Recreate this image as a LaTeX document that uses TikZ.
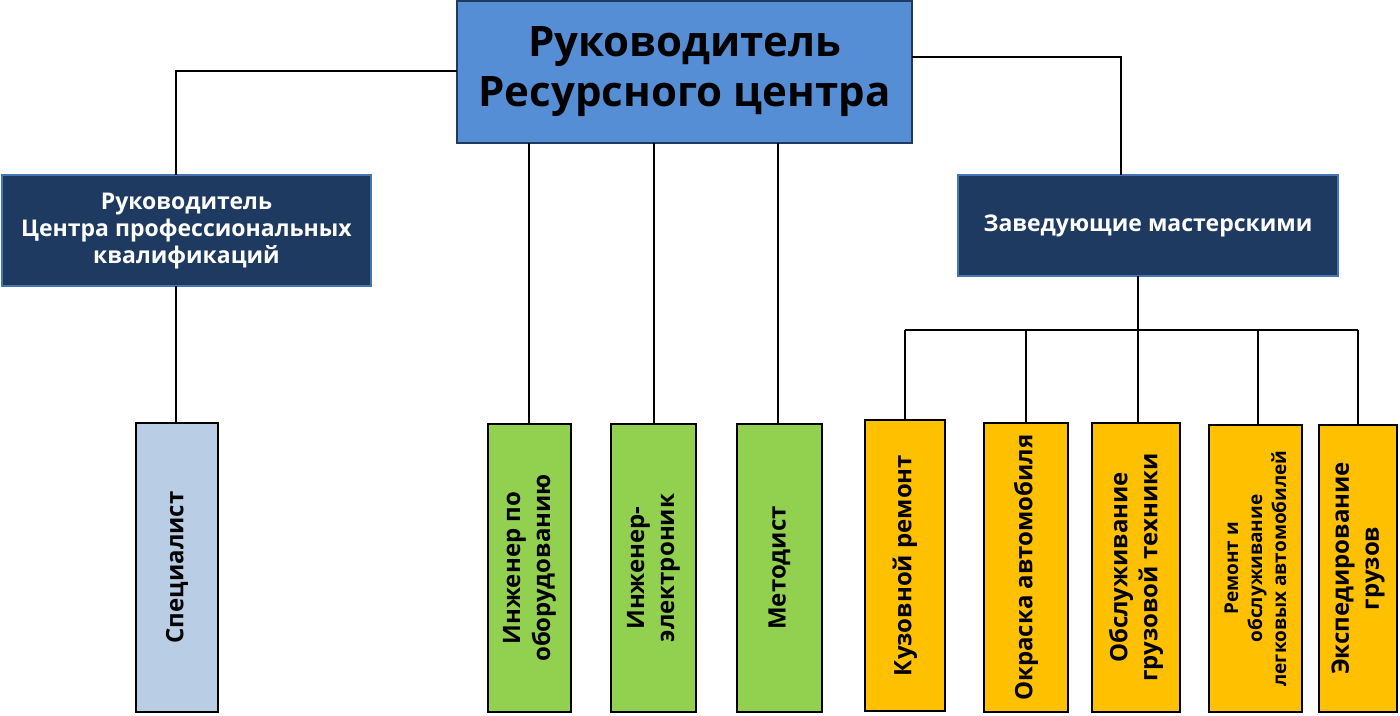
\documentclass[tikz,border=0pt]{standalone}
\usepackage{fontspec}
\setmainfont{Open Sans}
\definecolor{topblue}{HTML}{558ED5}
\definecolor{navy}{HTML}{1F3A60}
\definecolor{lblue}{HTML}{B9CDE5}
\definecolor{grn}{HTML}{92D050}
\definecolor{org}{HTML}{FFC000}
\begin{document}
\begin{tikzpicture}[x=1pt,y=-1pt,
 box/.style={draw=black,line width=2pt,inner sep=0pt},
 dbox/.style={fill=navy,draw=topblue!70!navy,line width=1.2pt,text=white,font=\bfseries\fontsize{23}{27}\selectfont,align=center},
 vtxt/.style={font=\bfseries\fontsize{24}{30}\selectfont,align=center,rotate=90},
 ln/.style={line width=1.5pt}]
\useasboundingbox (0,0) rectangle (1400,715);
\draw[fill=topblue,draw=navy,line width=1.2pt] (457,1) rectangle (912,143);
\node[font=\bfseries\fontsize{42}{50}\selectfont,align=center] (top) at (684.5,72) {Руководитель\\Ресурсного центра};
\draw[dbox] (2,175) rectangle (371,286);
\node[dbox,draw=none] (L) at (186.5,231) {Руководитель\\Центра профессиональных\\квалификаций};
\draw[dbox] (958,175) rectangle (1338,276);
\node[dbox,draw=none] (R) at (1148,226) {Заведующие мастерскими};
% connectors
\draw[ln] (457,71) -| (176,175);
\draw[ln] (912,57) -| (1121,175);
\foreach \x in {529,654,778}{\draw[ln] (\x,143) -- (\x,424);}
\draw[ln] (176,286) -- (176,423);
\draw[ln] (1138,276) -- (1138,330);
\draw[ln] (905,330) -- (1358,330);
\foreach \x/\y in {905/420,1026/423,1138/423,1258/425,1358/425}{\draw[ln] (\x,330) -- (\x,\y);}
% boxes
\draw[box,fill=lblue] (136,423) rectangle (218,712);
\node[vtxt] at (177,567.5) {Специалист};
\draw[box,fill=grn] (488,424) rectangle (571,712);
\node[vtxt] at (529.5,568) {Инженер по\\оборудованию};
\draw[box,fill=grn] (611,424) rectangle (696,712);
\node[vtxt] at (653.5,568) {Инженер-\\электроник};
\draw[box,fill=grn] (737,424) rectangle (822,712);
\node[vtxt] at (779.5,568) {Методист};
\draw[box,fill=org] (865,420) rectangle (945,711);
\node[vtxt] at (905,565.5) {Кузовной ремонт};
\draw[box,fill=org] (984,423) rectangle (1068,712);
\node[vtxt] at (1026,567.5) {Окраска автомобиля};
\draw[box,fill=org] (1092,423) rectangle (1180,712);
\node[vtxt] at (1136,567.5) {Обслуживание\\грузовой техники};
\draw[box,fill=org] (1209,425) rectangle (1302,712);
\node[vtxt,font=\bfseries\fontsize{19}{24}\selectfont] at (1255.5,568.5) {Ремонт и\\обслуживание\\легковых автомобилей};
\draw[box,fill=org] (1319,425) rectangle (1397,712);
\node[vtxt] at (1358,568.5) {Экспедирование\\грузов};
\end{tikzpicture}
\end{document}
